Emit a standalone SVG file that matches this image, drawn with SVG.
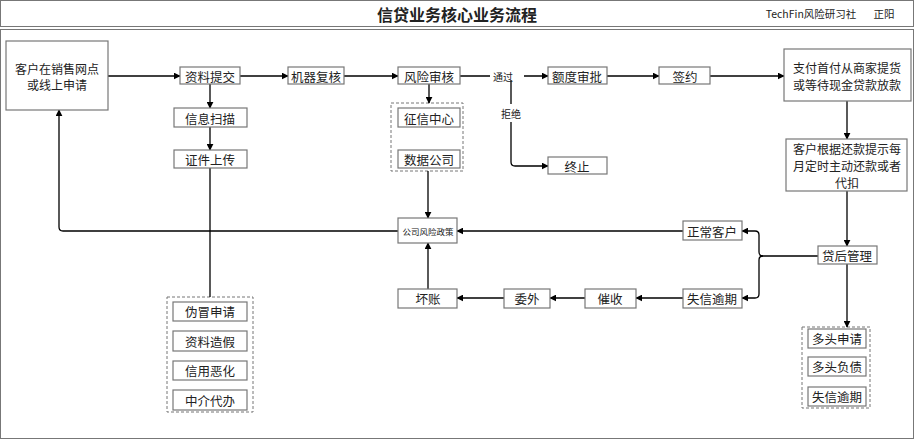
<svg xmlns="http://www.w3.org/2000/svg" width="915" height="440" viewBox="0 0 915 440">
<style>
text{font-family:"Noto Sans CJK SC","Liberation Sans",sans-serif;fill:#222;text-anchor:middle;dominant-baseline:central}
.n rect{fill:#fff;stroke:#777;stroke-width:1.2}
.t{font-size:12.5px}
.m{font-size:12px}
.d{fill:none;stroke:#777;stroke-dasharray:3 2}
#conn path{fill:none;stroke:#000;stroke-width:1.3}
</style>
<defs><marker id="a" viewBox="0 0 10 10" refX="9" refY="5" markerWidth="7" markerHeight="7" orient="auto" markerUnits="userSpaceOnUse"><path d="M0,0L10,5L0,10z" fill="#000"/></marker></defs>
<rect x="0.5" y="0.5" width="913" height="26" fill="#fff" stroke="#777"/>
<rect x="0.5" y="29.5" width="913" height="409" fill="#fff" stroke="#777"/>
<text x="457" y="14" style="font-size:16px;font-weight:bold">信贷业务核心业务流程</text>
<text x="811" y="13" style="font-size:10.5px">TechFin风险研习社</text>
<text x="884" y="13" style="font-size:10.5px">正阳</text>
<rect class="d" x="391" y="103" width="72" height="68"/>
<rect class="d" x="167" y="297" width="86" height="115"/>
<rect class="d" x="802" y="327" width="68" height="81"/>
<g id="conn" marker-end="url(#a)">
<path d="M108,76H180"/><path d="M240,76H288"/><path d="M344,76H398"/>
<path d="M460,76H490M524,76H548"/>
<path d="M511,80V104M511,122V162q0,4 4,4H548"/>
<path d="M607,76H659"/><path d="M710,76H784"/>
<path d="M847,101V139"/><path d="M847,191V246"/><path d="M847,264V327"/>
<path d="M818,256H763q-4,0 -4,-4V235q0,-4 -4,-4H742"/>
<path d="M763,256q-4,0 -4,4V294q0,4 -4,4H742"/>
<path d="M683,298H636"/><path d="M585,298H550"/><path d="M504,298H457"/>
<path d="M428,289V243"/><path d="M683,231H457"/>
<path d="M398,231H63q-4,0 -4,-4V110"/>
<path d="M428,171V218"/><path d="M429,84V103"/>
<path d="M210,84V108"/><path d="M210,127V150"/>
<path d="M210,168V297" marker-end="none"/>
</g>
<text x="503" y="76" style="font-size:10px">通过</text>
<text x="511" y="113" style="font-size:10px">拒绝</text>
<g id="n1" class="n"><rect x="6" y="41" width="102" height="69"/><text class="m" x="57" y="68">客户在销售网点</text><text class="m" x="57" y="84">或线上申请</text></g>
<g id="n2" class="n"><rect x="180" y="67" width="60" height="17"/><text class="t" x="210" y="76">资料提交</text></g>
<g id="n3" class="n"><rect x="288" y="67" width="56" height="17"/><text class="t" x="316" y="76">机器复核</text></g>
<g id="n4" class="n"><rect x="398" y="67" width="62" height="17"/><text class="t" x="429" y="76">风险审核</text></g>
<g id="n5" class="n"><rect x="174" y="108" width="73" height="19"/><text class="t" x="210" y="118">信息扫描</text></g>
<g id="n6" class="n"><rect x="174" y="150" width="73" height="18"/><text class="t" x="210" y="159">证件上传</text></g>
<g id="n7" class="n"><rect x="398" y="108" width="62" height="19"/><text class="t" x="429" y="118">征信中心</text></g>
<g id="n8" class="n"><rect x="398" y="150" width="62" height="18"/><text class="t" x="429" y="159">数据公司</text></g>
<g id="n9" class="n"><rect x="398" y="218" width="59" height="25"/><text x="428" y="231" style="font-size:8.5px">公司风险政策</text></g>
<g id="n10" class="n"><rect x="548" y="67" width="59" height="17"/><text class="t" x="577" y="76">额度审批</text></g>
<g id="n11" class="n"><rect x="659" y="67" width="51" height="17"/><text class="t" x="685" y="76">签约</text></g>
<g id="n12" class="n"><rect x="784" y="49" width="127" height="52"/><text class="m" x="847" y="67">支付首付从商家提货</text><text class="m" x="847" y="84">或等待现金贷款放款</text></g>
<g id="n13" class="n"><rect x="786" y="139" width="121" height="52"/><text class="m" x="847" y="148">客户根据还款提示每</text><text class="m" x="847" y="165">月定时主动还款或者</text><text class="m" x="847" y="182">代扣</text></g>
<g id="n14" class="n"><rect x="548" y="157" width="59" height="17"/><text class="t" x="577" y="166">终止</text></g>
<g id="n15" class="n"><rect x="683" y="221" width="59" height="19"/><text class="t" x="712" y="231">正常客户</text></g>
<g id="n16" class="n"><rect x="818" y="246" width="59" height="18"/><text class="t" x="847" y="255">贷后管理</text></g>
<g id="n17" class="n"><rect x="683" y="289" width="59" height="19"/><text class="t" x="712" y="298">失信逾期</text></g>
<g id="n18" class="n"><rect x="585" y="289" width="51" height="19"/><text class="t" x="610" y="298">催收</text></g>
<g id="n19" class="n"><rect x="504" y="289" width="46" height="19"/><text class="t" x="527" y="298">委外</text></g>
<g id="n20" class="n"><rect x="398" y="289" width="59" height="19"/><text class="t" x="428" y="298">坏账</text></g>
<g id="n21" class="n"><rect x="808" y="329" width="58" height="19"/><text class="t" x="837" y="338">多头申请</text></g>
<g id="n22" class="n"><rect x="808" y="357" width="58" height="19"/><text class="t" x="837" y="366">多头负债</text></g>
<g id="n23" class="n"><rect x="808" y="387" width="58" height="19"/><text class="t" x="837" y="396">失信逾期</text></g>
<g id="n24" class="n"><rect x="173" y="302" width="74" height="19"/><text class="t" x="210" y="311">伪冒申请</text></g>
<g id="n25" class="n"><rect x="173" y="331" width="74" height="20"/><text class="t" x="210" y="341">资料造假</text></g>
<g id="n26" class="n"><rect x="173" y="361" width="74" height="19"/><text class="t" x="210" y="370">信用恶化</text></g>
<g id="n27" class="n"><rect x="173" y="390" width="74" height="20"/><text class="t" x="210" y="400">中介代办</text></g>
</svg>
